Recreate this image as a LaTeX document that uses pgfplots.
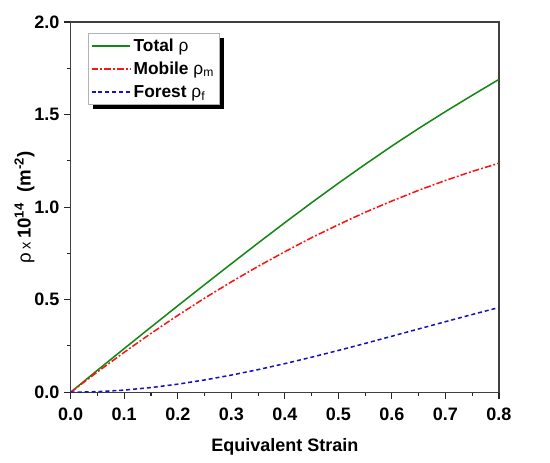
\documentclass[border=0pt]{standalone}
\usepackage{fontspec}
\setmainfont{Liberation Sans}
\usepackage{pgfplots}
\pgfplotsset{compat=1.18}
\usetikzlibrary{calc,backgrounds}

\definecolor{cTotal}{RGB}{20,135,20}
\definecolor{cMobile}{RGB}{250,20,20}
\definecolor{cForest}{RGB}{20,20,190}

\begin{document}
\begin{tikzpicture}
\begin{axis}[
  scale only axis,
  width=321pt, height=277.5pt,
  xmin=0, xmax=0.8, ymin=0, ymax=2.0,
  xtick={0,0.1,0.2,0.3,0.4,0.5,0.6,0.7,0.8},
  ytick={0,0.5,1.0,1.5,2.0},
  minor x tick num=1, minor y tick num=1,
  tick align=outside,
  xtick pos=bottom, ytick pos=left,
  major tick length=5pt, minor tick length=3pt,
  every tick/.style={black!85, line width=0.8pt},
  axis line style={black!75, line width=1pt},
  /pgf/number format/assume math mode=true,
  ticklabel style={font=\bfseries\fontsize{13.5}{15}\selectfont},
  xticklabel style={yshift=-3pt, /pgf/number format/.cd, fixed, fixed zerofill, precision=1},
  yticklabel style={/pgf/number format/.cd, fixed, fixed zerofill, precision=1},
  scaled ticks=false,
  xlabel={\textbf{Equivalent Strain}},
  xlabel style={font=\fontsize{13.5}{15}\selectfont, yshift=-7pt},
  ylabel={{\mdseries ρ\,{\fontsize{11}{13}\selectfont x}\,}\textbf{10\textsuperscript{14}\ \ (m\textsuperscript{-2})}},
  ylabel style={font=\fontsize{14}{16}\selectfont, yshift=-7pt},
  legend image code/.code={\draw[#1] (0pt,0pt) -- (29pt,0pt);},
  legend cell align=left,
  legend style={
    name=leg,
    at={(0.04,0.97)}, anchor=north west,
    draw=gray!60, fill=white,
    font=\bfseries\fontsize{13}{14}\selectfont,
    row sep=2.5pt, inner sep=2pt,
  },
]
\addplot[cTotal, line width=1.15pt] coordinates {
  (0,0) (0.05,0.119) (0.1,0.236) (0.15,0.352) (0.2,0.467) (0.25,0.581) (0.3,0.694)
  (0.35,0.806) (0.4,0.916) (0.45,1.024) (0.5,1.129) (0.55,1.231) (0.6,1.330)
  (0.65,1.425) (0.7,1.516) (0.75,1.604) (0.8,1.69)
};
\addlegendentry{Total {\mdseries ρ}}
\addplot[cMobile, line width=1.15pt,
  dash pattern=on 5pt off 1.6pt on 1.4pt off 1.6pt] coordinates {
  (0,0) (0.05,0.110) (0.1,0.216) (0.15,0.318) (0.2,0.415) (0.25,0.508) (0.3,0.596)
  (0.35,0.680) (0.4,0.759) (0.45,0.835) (0.5,0.905) (0.55,0.972) (0.6,1.033)
  (0.65,1.091) (0.7,1.144) (0.75,1.193) (0.8,1.237)
};
\addlegendentry{Mobile {\mdseries ρ\textsubscript{m}}}
\addplot[cForest, line width=1.15pt,
  dash pattern=on 3pt off 2.2pt] coordinates {
  (0,0) (0.05,0.003) (0.1,0.0115) (0.15,0.0252) (0.2,0.0436) (0.25,0.0662) (0.3,0.0925)
  (0.35,0.1221) (0.4,0.1545) (0.45,0.1892) (0.5,0.2257) (0.55,0.2636) (0.6,0.3026)
  (0.65,0.3419) (0.7,0.3811) (0.75,0.4199) (0.8,0.4577)
};
\addlegendentry{Forest {\mdseries ρ\textsubscript{f}}}
\end{axis}
% legend shadow
\begin{scope}[on background layer]
  \fill[black] ($(leg.south west)+(3.5pt,-3.5pt)$) rectangle ($(leg.north east)+(3.5pt,-3.5pt)$);
\end{scope}
\pgfresetboundingbox
\path ($(current axis.south west)+(-53pt,-52.5pt)$) rectangle ($(current axis.north east)+(38.25pt,16.5pt)$);
\end{tikzpicture}
\end{document}
